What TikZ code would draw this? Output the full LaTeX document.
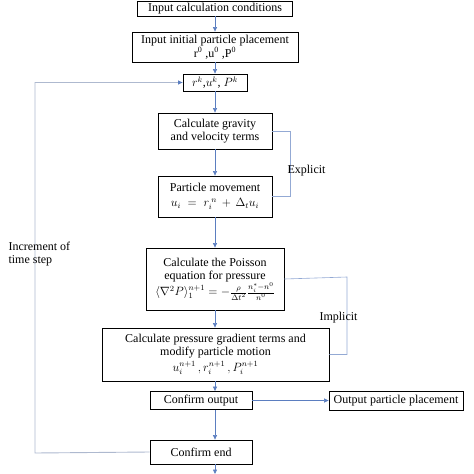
\documentclass[tikz,border=0pt]{standalone}
\usepackage{fontspec}
\setmainfont{Liberation Serif}
\usepackage{amsmath,amssymb}
\usetikzlibrary{arrows.meta}
\definecolor{flowblue}{HTML}{5B7EC0}
\definecolor{loopgray}{HTML}{AEB9CF}
\definecolor{sideblue}{HTML}{93A9D4}
\tikzset{tip/.style={-{Triangle[length=4.5pt,width=4pt,color=flowblue]}}}

\begin{document}
\begin{tikzpicture}[x=1pt,y=-1pt,font=\fontsize{12}{13}\selectfont,blk/.style={draw=black,line width=0.8pt,fill=white,align=center,inner sep=0pt},flow/.style={tip,draw=flowblue,line width=0.6pt},side/.style={draw=sideblue,line width=0.6pt},back/.style={tip,draw=loopgray,line width=0.9pt}]
\useasboundingbox (0,0) rectangle (474,474);
\node[blk,minimum width=155pt,minimum height=15pt] (cond) at (215,8.5) {Input calculation conditions};
\node[blk,minimum width=166pt,minimum height=30pt] (init) at (215,47) {Input initial particle placement\\[1pt]r\textsuperscript{0} ,u\textsuperscript{0} ,P\textsuperscript{0}};
\node[blk,minimum width=64pt,minimum height=17pt] (state) at (215,82.5) {$r^k$,$u^k$, $P^k$};
\node[blk,minimum width=114pt,minimum height=36pt] (grav) at (215,131) {Calculate gravity\\and velocity terms};
\node[blk,minimum width=114pt,minimum height=41pt] (move) at (215,196.5) {Particle movement\\[2pt]$u_i\;=\;r_i^{\;n}\,+\,\Delta_t u_i$};
\node[blk,minimum width=138pt,minimum height=62pt] (pois) at (215,279) {Calculate the Poisson\\equation for pressure\\$\langle\nabla^2 P\rangle_1^{n+1}=-\frac{\rho}{\Delta t^2}\frac{n_i^*-n^0}{n^0}$};
\node[blk,minimum width=227pt,minimum height=53pt] (grad) at (215.5,354.5) {Calculate pressure gradient terms and\\modify particle motion\\[3pt]$u_i^{n+1}\,,r_i^{n+1}\,,P_i^{n+1}$};
\node[blk,minimum width=102pt,minimum height=18pt] (outc) at (201,400.5) {Confirm output};
\node[blk,minimum width=134pt,minimum height=19pt] (outp) at (396,400.5) {Output particle placement};
\node[blk,minimum width=102pt,minimum height=24pt] (fin) at (201,452) {Confirm end};
\coordinate (bot) at (215,474);
% main flow
\draw[flow] (cond)--(init);\draw[flow] (init)--(state);\draw[flow] (state)--(grav);\draw[flow] (grav)--(move);
\draw[flow] (move)--(pois);\draw[flow] (pois)--(grad.north -| pois);
\draw[flow] (grad.south -| pois)--(outc.north -| pois);\draw[flow] (outc.south -| pois)--(fin.north -| pois);
\draw[flow] (fin.south -| pois)--(bot);
\draw[flow] (outc)--(outp);
% explicit / implicit brackets
\draw[side] (grav.east)--(290,131)|-(move.east);
\node[anchor=west] (expl) at (284,171) {Explicit};
\draw[side] (pois.east)--(347,277)|-(grad.east);
\node (impl) at (338.5,318) {Implicit};
% time step loop
\draw[back] (fin.west)--(35,453)|-(state.west);
\node[anchor=west,align=left] (incr) at (5,254) {Increment of\\time step};
\end{tikzpicture}
\end{document}
